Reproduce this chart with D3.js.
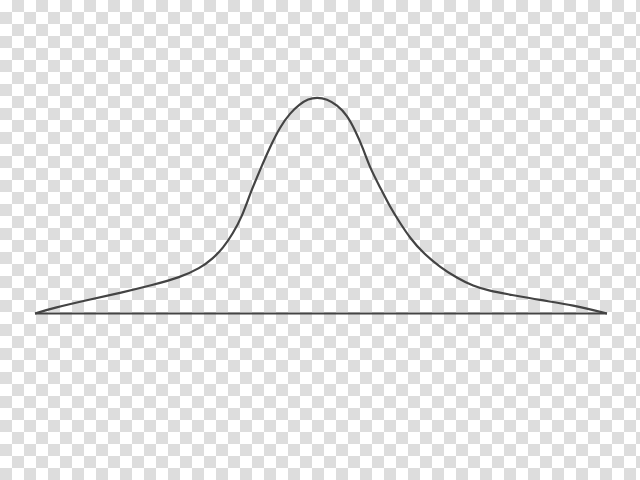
<!DOCTYPE html>
<html>
<head>
<meta charset="utf-8">
<script src="https://cdn.jsdelivr.net/npm/d3@7"></script>
<style>
  html, body { margin: 0; padding: 0; background: #fff; }
  svg { display: block; }
</style>
</head>
<body>
<div id="chart"></div>
<script>
// ── Data: bell curve (x: 0-100 across the base, y: 0-1 height) ──
const curveX = [0, 3.15, 9.09, 14.86, 20.63, 25.35, 28.85, 31.12, 32.87, 34.62, 36.19, 37.59, 39.34, 41.08, 42.83,
                44.58, 46.33, 47.73, 49.30, 51.05, 52.80, 54.55, 55.94, 57.34, 58.57, 60.31, 62.06, 63.81,
                65.56, 67.83, 70.80, 73.78, 76.57, 79.55, 82.52, 88.29, 94.06, 100];
const curveY = [0, 0.025, 0.062, 0.095, 0.132, 0.167, 0.209, 0.255, 0.302, 0.371, 0.448, 0.553, 0.664, 0.770, 0.863,
                0.927, 0.969, 0.992, 1.0, 0.992, 0.964, 0.918, 0.849, 0.765, 0.673, 0.585, 0.493, 0.419,
                0.349, 0.280, 0.215, 0.164, 0.127, 0.104, 0.090, 0.062, 0.039, 0];
const baseX = [0, 100];

(function () {
  "use strict";

  const W = 640, H = 480;
  const margin = { top: 97.3, right: 33, bottom: 166.5, left: 35 };

  const svg = d3.select("#chart").append("svg")
    .attr("width", W)
    .attr("height", H);

  // ── Transparency checkerboard ─────────────────────────────────────────────
  const CELL = 12;
  const pat = svg.append("defs").append("pattern")
    .attr("id", "checker")
    .attr("width", CELL * 2).attr("height", CELL * 2)
    .attr("patternUnits", "userSpaceOnUse");
  pat.append("rect").attr("width", CELL * 2).attr("height", CELL * 2).attr("fill", "#ffffff");
  pat.append("rect").attr("x", CELL).attr("y", 0).attr("width", CELL).attr("height", CELL).attr("fill", "#dddddd");
  pat.append("rect").attr("x", 0).attr("y", CELL).attr("width", CELL).attr("height", CELL).attr("fill", "#dddddd");
  svg.append("rect").attr("width", W).attr("height", H).attr("fill", "url(#checker)");

  const g = svg.append("g");

  const x = d3.scaleLinear().domain([0, 100]).range([margin.left, W - margin.right]);
  const y = d3.scaleLinear().domain([0, 1]).range([H - margin.bottom, margin.top]);

  const pts = curveX.map((v, i) => [v, curveY[i]]);

  // Baseline
  g.append("line")
    .attr("x1", x(baseX[0])).attr("x2", x(baseX[1]))
    .attr("y1", y(0)).attr("y2", y(0))
    .attr("stroke", "#444")
    .attr("stroke-width", 2.2);

  // Curve
  g.append("path")
    .datum(pts)
    .attr("d", d3.line().x(d => x(d[0])).y(d => y(d[1])).curve(d3.curveBasis))
    .attr("fill", "none")
    .attr("stroke", "#444")
    .attr("stroke-width", 2.2)
    .attr("stroke-linejoin", "round");
})();
</script>
</body>
</html>
